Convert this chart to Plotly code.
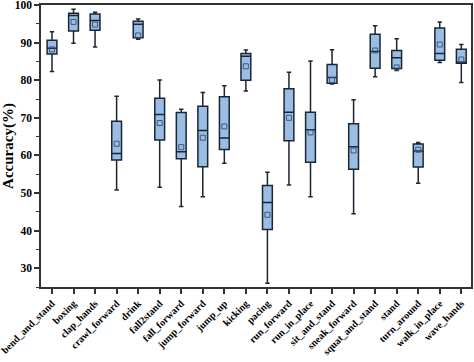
import plotly.graph_objects as go

categories = ["bend_and_stand", "boxing", "clap_hands", "crawl_forward", "drink",
              "fall2stand", "fall_forward", "jump_forward", "jump_up", "kicking",
              "pacing", "run_forward", "run_in_place", "sit_and_stand", "sneak_forward",
              "squat_and_stand", "stand", "turn_around", "walk_in_place", "wave_hands"]
lower_whisker = [82.3, 89.8, 88.8, 50.8, 90.9, 51.5, 46.4, 49.0, 57.9, 77.1,
                 26.0, 52.1, 49.0, 79.0, 44.5, 80.9, 82.6, 52.6, 84.7, 79.4]
q1_values = [87.0, 93.1, 93.3, 58.8, 91.3, 64.1, 59.1, 57.0, 61.6, 80.0,
             40.3, 63.9, 58.2, 79.2, 56.3, 83.2, 83.1, 56.9, 85.3, 84.5]
median_values = [88.5, 97.2, 95.9, 60.5, 94.9, 70.9, 61.0, 66.6, 64.6, 86.4,
                 47.5, 71.5, 66.8, 80.7, 62.3, 87.6, 86.0, 61.2, 87.1, 84.8]
q3_values = [90.6, 97.8, 97.6, 69.1, 95.7, 75.2, 71.4, 73.1, 75.6, 87.1,
             52.0, 77.7, 71.5, 84.2, 68.4, 92.2, 87.9, 63.0, 93.9, 88.2]
upper_whisker = [92.9, 98.85, 98.1, 75.7, 96.3, 80.05, 72.3, 76.7, 78.5, 88.0,
                 55.5, 82.1, 85.1, 88.1, 74.8, 94.5, 91.0, 63.4, 95.5, 89.5]
mean_values = [88.2, 95.5, 94.8, 63.1, 91.9, 68.6, 62.2, 64.7, 67.7, 83.7,
               44.2, 70.0, 66.1, 80.1, 61.3, 87.9, 83.4, 61.5, 89.5, 85.5]
y_ticks = [30, 40, 50, 60, 70, 80, 90, 100]

FILL = "#99bde3"
EDGE = "#1b2633"
FONT = "Liberation Serif"

fig = go.Figure()
fig.add_trace(go.Box(
    x=categories, q1=q1_values, median=median_values, q3=q3_values,
    lowerfence=lower_whisker, upperfence=upper_whisker,
    fillcolor=FILL, line=dict(color=EDGE, width=1.5),
    whiskerwidth=0.45, boxpoints=False, showlegend=False, hoverinfo="skip",
))
fig.add_trace(go.Scatter(
    x=categories, y=mean_values, mode="markers",
    marker=dict(symbol="square-open", size=5, color="#3c5a80", line=dict(width=1)),
    showlegend=False, hoverinfo="skip",
))

fig.update_layout(
    width=474, height=362,
    margin=dict(l=41, r=3, t=5, b=75),
    paper_bgcolor="white", plot_bgcolor="white",
    boxgap=0.35,
    font=dict(family=FONT, color="black"),
)
fig.update_xaxes(
    type="category", range=[-0.51, 19.45], automargin=False,
    showline=True, linecolor="#333333", linewidth=1.5, mirror=True,
    ticks="outside", ticklen=5, tickwidth=1.5, tickcolor="#333333",
    tickangle=-45, tickfont=dict(family=FONT, size=10, color="black", weight="bold"),
    ticklabeloverflow="allow",
    showgrid=False, zeroline=False,
)
fig.update_yaxes(
    range=[25, 100], tickvals=y_ticks, automargin=False,
    showline=True, linecolor="#333333", linewidth=1.5, mirror=True,
    ticks="outside", ticklen=5, tickwidth=1.5, tickcolor="#333333",
    minor=dict(dtick=5, ticks="outside", ticklen=3, tickwidth=1, tickcolor="#333333", tick0=25),
    tickfont=dict(family=FONT, size=11.5, color="black", weight="bold"),
    ticklabeloverflow="allow",
    title=dict(text="Accuracy(%)", font=dict(family=FONT, size=15, color="black", weight="bold"), standoff=4),
    showgrid=False, zeroline=False,
)

fig.write_html("out.html", config={"displayModeBar": False},
               post_script="document.body.style.margin='0px';")
